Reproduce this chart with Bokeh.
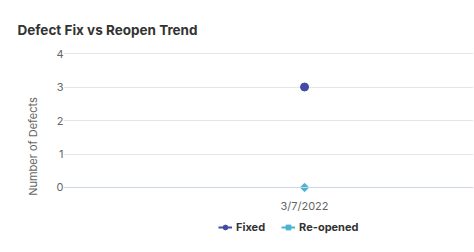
import math
from bokeh.plotting import figure
from bokeh.models import Range1d, FixedTicker, Legend, LegendItem, ColumnDataSource, Span
from bokeh.embed import file_html
from bokeh.resources import INLINE

dates = ["3/7/2022"]
fixed = [3]
reopened = [0]
y_ticks = [0, 1, 2, 3, 4]

xs = list(range(len(dates)))
src = ColumnDataSource(dict(x=xs, fixed=fixed, reopened=reopened))

FONT = "Inter"
p = figure(frame_width=410, frame_height=192, output_backend="svg", toolbar_location=None,
           x_range=Range1d(-1, 0.701), y_range=Range1d(-1.642, 4.09),
           min_border_left=63, min_border_right=1, min_border_top=50, min_border_bottom=0,
           title="Defect Fix vs Reopen Trend")
p.outline_line_color = None
p.title.text_font = FONT
p.title.text_font_size = "13.5px"
p.title.text_font_style = "bold"
p.title.text_color = "#333333"
p.title.offset = -46
p.title.standoff = 25

# grid
p.xgrid.grid_line_color = None
p.ygrid.ticker = FixedTicker(ticks=y_ticks)
p.ygrid.grid_line_color = "#e6e6e6"
p.ygrid.grid_line_width = 1

p.add_layout(Span(location=0, dimension="width", line_color="#ccd6eb", line_width=1))

# y axis
p.yaxis.ticker = FixedTicker(ticks=y_ticks)
p.yaxis.axis_line_color = None
p.yaxis.major_tick_line_color = None
p.yaxis.minor_tick_line_color = None
p.yaxis.major_tick_out = 0
p.yaxis.major_tick_in = 0
p.yaxis.minor_tick_out = 0
p.yaxis.minor_tick_in = 0
p.yaxis.major_label_text_font = FONT
p.yaxis.major_label_text_font_size = "11px"
p.yaxis.major_label_text_color = "#666666"
p.yaxis.major_label_standoff = 0
p.yaxis.axis_label = "Number of Defects"
p.yaxis.axis_label_text_font = FONT
p.yaxis.axis_label_text_font_size = "11px"
p.yaxis.axis_label_text_font_style = "normal"
p.yaxis.axis_label_text_color = "#666666"
p.yaxis.axis_label_standoff = 13

# x axis (drawn on the zero line)
p.xaxis.ticker = FixedTicker(ticks=xs)
p.xaxis.major_label_overrides = {i: d for i, d in zip(xs, dates)}
p.xaxis.fixed_location = 0
p.xaxis.axis_line_color = None
p.xaxis.major_tick_line_color = None
p.xaxis.minor_tick_line_color = None
p.xaxis.major_tick_out = 0
p.xaxis.major_tick_in = 0
p.xaxis.minor_tick_out = 0
p.xaxis.minor_tick_in = 0
p.xaxis.major_label_text_font = FONT
p.xaxis.major_label_text_font_size = "11px"
p.xaxis.major_label_text_color = "#666666"
p.xaxis.major_label_standoff = 12

c_fixed = "#434ba5"
c_re = "#4ab3cf"
l1 = p.line("x", "fixed", source=src, line_color=c_fixed, line_width=2)
m1 = p.scatter("x", "fixed", source=src, marker="circle", size=8, fill_color=c_fixed, line_color=c_fixed)
l2 = p.line("x", "reopened", source=src, line_color=c_re, line_width=2)
m2 = p.scatter("x", "reopened", source=src, marker="square", angle=math.pi / 4, size=6,
               fill_color=c_re, line_color=c_re)

legend = Legend(items=[LegendItem(label="Fixed", renderers=[l1, m1]),
                       LegendItem(label="Re-opened", renderers=[l2, m2])],
                orientation="horizontal", location=(155, 8),
                label_text_font=FONT, label_text_font_size="11px",
                label_text_font_style="bold", label_text_color="#333333",
                border_line_color=None, background_fill_alpha=0,
                glyph_width=14, glyph_height=12, spacing=16, padding=0, margin=0,
                label_standoff=4, label_height=12)
p.add_layout(legend, "center")

open("out.html", "w").write(file_html(p, INLINE))
